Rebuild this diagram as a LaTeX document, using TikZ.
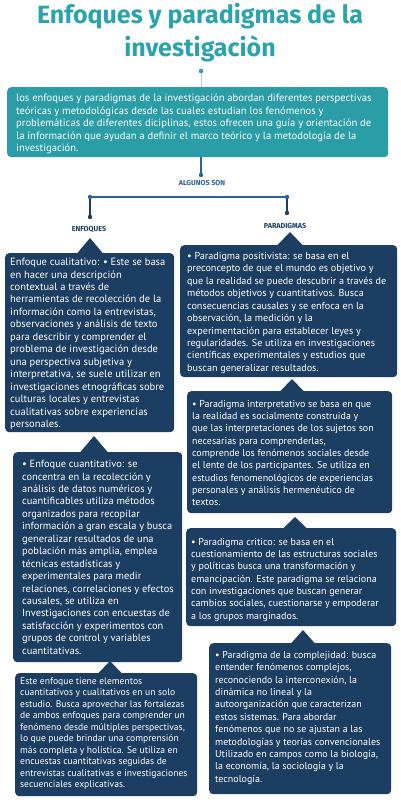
\documentclass[tikz,border=0pt]{standalone}
\usepackage{fontspec}
\setmainfont{PT Sans}
\newfontfamily\titlefont{Fira Sans}
\definecolor{navy}{HTML}{1C3E63}
\definecolor{tealT}{HTML}{2BA3AD}
\definecolor{tealB}{HTML}{2A9DA7}
\definecolor{lineblue}{HTML}{2C62A0}
\definecolor{thinline}{HTML}{B5D3D6}
\tikzset{
  navybox/.style={fill=navy, draw=none, rounded corners=4pt, inner sep=0pt, anchor=north west},
  bodytxt/.style={text=white, align=left, inner sep=0pt, anchor=north west, font=\fontsize{10}{12.45}\selectfont},
  smalltxt/.style={text=white, align=left, inner sep=0pt, anchor=north west, font=\fontsize{9.6}{11.45}\selectfont},
  blueline/.style={draw=lineblue, line width=1.4pt},
  dotb/.style={fill=lineblue},
  lbl/.style={font=\titlefont\bfseries\fontsize{7.2}{8}\selectfont, inner sep=0pt}
}
\begin{document}
\begin{tikzpicture}[x=1pt,y=-1pt]
\useasboundingbox[fill=white] (0,0) rectangle (400,800);

% title
\node[font=\titlefont\bfseries\fontsize{25}{33}\selectfont, text=tealT, align=center, inner sep=0pt] (title) at (200,33) {Enfoques y paradigmas de la\\investigaciòn};
\coordinate (tdot) at (201,71);

% intro box
\node[fill=tealB, rounded corners=4pt, minimum width=381pt, minimum height=70pt, anchor=north west, inner sep=0pt] (intro) at (7,87) {};
\node[bodytxt, font=\fontsize{10.6}{12.4}\selectfont] (introtxt) at (16,94) { los enfoques y paradigmas de la investigación abordan diferentes perspectivas\\teóricas y metodológicas desde las cuales estudian los fenómenos y\\problemáticas de diferentes diciplinas, estos ofrecen una guía y orientación de\\la información que ayudan a definir el marco teórico y la metodología de la\\investigación.};

\draw[thinline, line width=1pt] (tdot) -- (intro.north -| tdot);
\fill[tealT] (tdot) circle (2.3pt);

% algunos son
\coordinate (adot) at (201,175);
\draw[blueline] (intro.south -| adot) -- (adot);
\fill[dotb] (adot) circle (2.2pt);
\node[lbl, text=lineblue] (algunos) at (202,183) {ALGUNOS SON};

\coordinate (hl) at (90,197);
\coordinate (hr) at (287,197);
\coordinate (el) at (90,217);
\coordinate (pr) at (287,213);
\draw[blueline] (hl) -- (hr);
\draw[draw=navy, line width=1.4pt] (hl) -- (el);
\draw[draw=navy, line width=1.4pt] (hr) -- (pr);
\fill[dotb] (hl) circle (2.2pt);
\fill[dotb] (hr) circle (2.2pt);
\fill[navy] (el) circle (2.2pt);
\fill[navy] (pr) circle (2.2pt);
\node[lbl, text=navy] (enf) at (89,229) {ENFOQUES};
\node[lbl, text=navy] (par) at (285,226) {PARADIGMAS};

% ---------- left column ----------
\node[navybox, minimum width=169pt, minimum height=179pt] (cual) at (5,253) {};
\fill[navy] (77,253.5) -- (90,238) -- (103,253.5) -- cycle;
\node[bodytxt, font=\fontsize{10.5}{12.45}\selectfont] (cualtxt) at (10,258) {Enfoque cualitativo: • Este se basa\\en hacer una descripción\\contextual a través de\\herramientas de recolección de la\\información como la entrevistas,\\observaciones y análisis de texto\\para describir y comprender el\\problema de investigación desde\\una perspectiva subjetiva y\\interpretativa, se suele utilizar en\\investigaciones etnográficas sobre\\culturas locales y entrevistas\\cualitativas sobre experiencias\\personales.};

\node[navybox, minimum width=169pt, minimum height=210pt] (cuan) at (13,452) {};
\fill[navy] (80,452.5) -- (94,436) -- (108,452.5) -- cycle;
\node[bodytxt, font=\fontsize{10.4}{12.45}\selectfont] (cuantxt) at (22,460) {• Enfoque cuantitativo: se\\concentra en la recolección y\\análisis de datos numéricos y\\cuantificables utiliza métodos\\organizados para recopilar\\información a gran escala y busca\\generalizar resultados de una\\población más amplia, emplea\\técnicas estadísticas y\\experimentales para medir\\relaciones, correlaciones y efectos\\causales, se utiliza en\\Investigaciones con encuestas de\\satisfacción y experimentos con\\grupos de control y variables\\cuantitativas.};

\node[navybox, minimum width=182pt, minimum height=123pt] (mixto) at (15,673) {};
\fill[navy] (98,673.5) -- (110,661) -- (122,673.5) -- cycle;
\node[smalltxt] (mixtotxt) at (20,677.5) {Este enfoque tiene elementos\\cuantitativos y cualitativos en un solo\\estudio. Busca aprovechar las fortalezas\\de ambos enfoques para comprender un\\fenómeno desde múltiples perspectivas,\\lo que puede brindar una comprensión\\más completa y holística. Se utiliza en\\encuestas cuantitativas seguidas de\\entrevistas cualitativas e investigaciones\\secuenciales explicativas.};

% ---------- right column ----------
\node[navybox, minimum width=217pt, minimum height=132pt] (posi) at (180,245) {};
\fill[navy] (277,245.5) -- (290,232) -- (303,245.5) -- cycle;
\node[bodytxt, font=\fontsize{10.15}{12.45}\selectfont] (positxt) at (187,252) {• Paradigma positivista: se basa en el\\preconcepto de que el mundo es objetivo y\\que la realidad se puede descubrir a través de\\métodos objetivos y cuantitativos. Busca\\consecuencias causales y se enfoca en la\\observación, la medición y la\\experimentación para establecer leyes y\\regularidades. Se utiliza en investigaciones\\científicas experimentales y estudios que\\buscan generalizar resultados.};

\node[navybox, minimum width=205pt, minimum height=122pt] (inter) at (187,391) {};
\fill[navy] (280,391.5) -- (292,379) -- (304,391.5) -- cycle;
\node[bodytxt, font=\fontsize{10}{12.3}\selectfont] (intertxt) at (192,400) {• Paradigma interpretativo se basa en que\\la realidad es socialmente construida y\\que las interpretaciones de los sujetos son\\necesarias para comprenderlas,\\comprende los fenómenos sociales desde\\el lente de los participantes. Se utiliza en\\estudios fenomenológicos de experiencias\\personales y análisis hermenéutico de\\textos.};

\node[navybox, minimum width=210pt, minimum height=98pt] (crit) at (186,528) {};
\fill[navy] (283,528.5) -- (295,517) -- (307,528.5) -- cycle;
\node[bodytxt, font=\fontsize{10.05}{12.3}\selectfont] (crittxt) at (191,538) {• Paradigma critico: se basa en el\\cuestionamiento de las estructuras sociales\\y políticas busca una transformación y\\emancipación. Este paradigma se relaciona\\con investigaciones que buscan generar\\cambios sociales, cuestionarse y empoderar\\a los grupos marginados.};

\node[navybox, minimum width=182pt, minimum height=151pt] (comp) at (209,643) {};
\fill[navy] (291,643.5) -- (303,630) -- (315,643.5) -- cycle;
\node[bodytxt, font=\fontsize{10}{12.4}\selectfont] (comptxt) at (215,651) {• Paradigma de la complejidad: busca\\entender fenómenos complejos,\\reconociendo la interconexión, la\\dinámica no lineal y la\\autoorganización que caracterizan\\estos sistemas. Para abordar\\fenómenos que no se ajustan a las\\metodologías y teorías convencionales\\Utilizado en campos como la biología,\\la economía, la sociología y la\\tecnología.};

\end{tikzpicture}
\end{document}
